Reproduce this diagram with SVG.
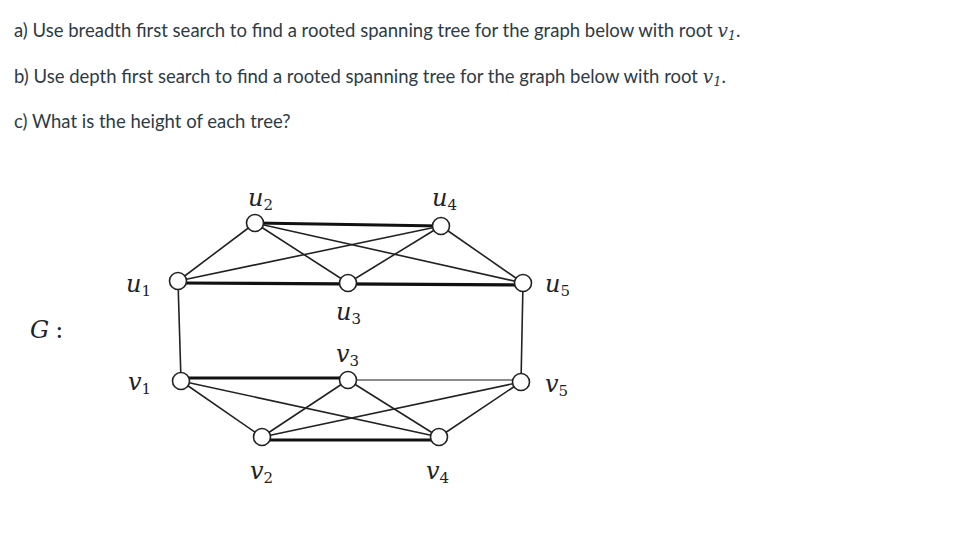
<svg xmlns="http://www.w3.org/2000/svg" width="966" height="551" viewBox="0 0 966 551">
<style>
.q{font-family:Lato,"Liberation Sans",sans-serif;font-size:18.5px;fill:#2d3b45}
.m{font-family:"DejaVu Serif","Liberation Serif",serif;font-style:italic}
.l{font-family:"DejaVu Serif","Liberation Serif",serif;font-style:italic;font-size:24px;fill:#222}
.s{font-size:15px;font-style:normal}
.e{stroke:#222;stroke-width:1.6;fill:none}
.t{stroke:#111;stroke-width:3.2;fill:none}
.g{stroke:#666;stroke-width:1.4;fill:none}
circle{fill:#fff;stroke:#222;stroke-width:1.6}
</style>
<rect width="966" height="551" fill="#fff"/>
<text class="q" x="14" y="37">a) Use breadth first search to find a rooted spanning tree for the graph below with root <tspan class="m">v</tspan><tspan class="m" font-size="13" dy="3">1</tspan><tspan dy="-3">.</tspan></text>
<text class="q" x="14" y="83">b) Use depth first search to find a rooted spanning tree for the graph below with root <tspan class="m">v</tspan><tspan class="m" font-size="13" dy="3">1</tspan><tspan dy="-3">.</tspan></text>
<text class="q" x="14" y="128">c) What is the height of each tree?</text>
<g id="edges">
<line class="t" x1="255" y1="223" x2="441" y2="226"/>
<line class="e" x1="178" y1="281" x2="255" y2="223"/>
<line class="e" x1="178" y1="281" x2="441" y2="226"/>
<line class="e" x1="255" y1="223" x2="348" y2="283"/>
<line class="e" x1="255" y1="223" x2="523" y2="283"/>
<line class="e" x1="441" y1="226" x2="348" y2="283"/>
<line class="e" x1="441" y1="226" x2="523" y2="283"/>
<line class="t" x1="178" y1="283" x2="523" y2="285"/>
<line class="e" x1="178" y1="281" x2="181" y2="381"/>
<line class="e" x1="523" y1="283" x2="521" y2="382"/>
<line class="t" x1="181" y1="378" x2="348" y2="378"/>
<line class="g" x1="348" y1="380" x2="521" y2="380"/>
<line class="e" x1="181" y1="381" x2="262" y2="437"/>
<line class="e" x1="181" y1="381" x2="439" y2="437"/>
<line class="e" x1="348" y1="380" x2="262" y2="437"/>
<line class="e" x1="348" y1="380" x2="439" y2="437"/>
<line class="e" x1="521" y1="382" x2="262" y2="437"/>
<line class="e" x1="521" y1="382" x2="439" y2="437"/>
<line class="t" x1="262" y1="440" x2="439" y2="440"/>
</g>
<g id="u2"><circle cx="255" cy="223" r="8.5"/><text class="l" x="248" y="206">u<tspan class="s" dy="4">2</tspan></text></g>
<g id="u4"><circle cx="441" cy="226" r="8.5"/><text class="l" x="432" y="206">u<tspan class="s" dy="4">4</tspan></text></g>
<g id="u1"><circle cx="178" cy="281" r="8.5"/><text class="l" x="126" y="292">u<tspan class="s" dy="4">1</tspan></text></g>
<g id="u3"><circle cx="348" cy="283" r="8.5"/><text class="l" x="336" y="320">u<tspan class="s" dy="4">3</tspan></text></g>
<g id="u5"><circle cx="523" cy="283" r="8.5"/><text class="l" x="545" y="292">u<tspan class="s" dy="4">5</tspan></text></g>
<g id="v1"><circle cx="181" cy="381" r="8.5"/><text class="l" x="128" y="390">v<tspan class="s" dy="4">1</tspan></text></g>
<g id="v3"><circle cx="348" cy="380" r="8.5"/><text class="l" x="336" y="362">v<tspan class="s" dy="4">3</tspan></text></g>
<g id="v5"><circle cx="521" cy="382" r="8.5"/><text class="l" x="545" y="392">v<tspan class="s" dy="4">5</tspan></text></g>
<g id="v2"><circle cx="262" cy="437" r="8.5"/><text class="l" x="250" y="479">v<tspan class="s" dy="4">2</tspan></text></g>
<g id="v4"><circle cx="439" cy="437" r="8.5"/><text class="l" x="426" y="479">v<tspan class="s" dy="4">4</tspan></text></g>
<text class="l" x="30" y="338">G<tspan font-style="normal" dx="6">:</tspan></text>
</svg>
